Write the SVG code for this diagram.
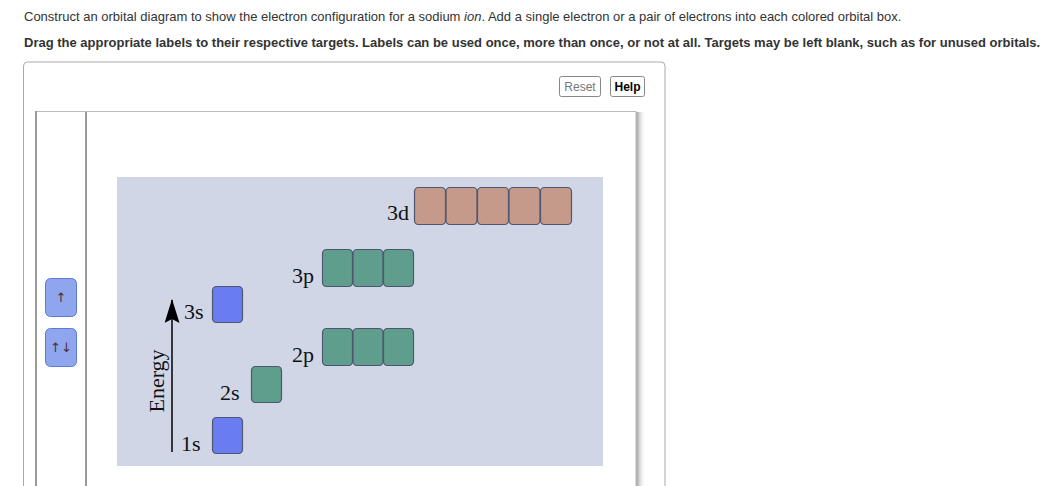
<svg xmlns="http://www.w3.org/2000/svg" width="1064" height="486" viewBox="0 0 1064 486">
<defs>
<style>
.ins{font-family:"Liberation Sans",Arial,sans-serif;font-size:13px;fill:#333}
.insb{font-family:"Liberation Sans",Arial,sans-serif;font-size:13px;font-weight:bold;fill:#333}
.lbl{font-family:"Liberation Serif","Times New Roman",serif;font-size:22px;fill:#111}
.btn{fill:#fff;stroke:#888;stroke-width:1}
.s{fill:#6a7cf2;stroke:#4e5670;stroke-width:1.2}
.g{fill:#5f9e8c;stroke:#4e5670;stroke-width:1.2}
.d{fill:#c59a8a;stroke:#4e5670;stroke-width:1.2}
.tile{fill:#8fa6ef;stroke:#5d7bd6;stroke-width:1}
</style>
<linearGradient id="sh" x1="0" y1="0" x2="1" y2="0">
<stop offset="0" stop-color="#999"/>
<stop offset="1" stop-color="#fff" stop-opacity="0"/>
</linearGradient>
<marker id="ah" viewBox="0 0 24 15" refX="23" refY="7.5" markerUnits="userSpaceOnUse" markerWidth="24" markerHeight="15" orient="auto">
<path d="M0,0 L24,7.5 L0,15 L4,7.5 z" fill="#000"/>
</marker>
</defs>
<rect width="1064" height="486" fill="#fff"/>
<text class="ins" x="24" y="21">Construct an orbital diagram to show the electron configuration for a sodium <tspan font-style="italic">ion</tspan>. Add a single electron or a pair of electrons into each colored orbital box.</text>
<text class="insb" x="24" y="47">Drag the appropriate labels to their respective targets. Labels can be used once, more than once, or not at all. Targets may be left blank, such as for unused orbitals.</text>

<g id="frame">
<path d="M23.5,495 V66 a4,4 0 0 1 4,-4 H661 a4,4 0 0 1 4,4 V495" fill="none" stroke="#aaa" stroke-width="1"/>
</g>
<g id="reset">
<rect class="btn" x="559.5" y="76.5" width="41" height="20" rx="2"/>
<text x="580" y="91" text-anchor="middle" font-family="Liberation Sans, Arial, sans-serif" font-size="12" fill="#777">Reset</text>
</g>
<g id="help">
<rect class="btn" x="610.5" y="76.5" width="34" height="20" rx="2" stroke="#555"/>
<text x="627.5" y="91" text-anchor="middle" font-family="Liberation Sans, Arial, sans-serif" font-size="12" font-weight="bold" fill="#000">Help</text>
</g>

<g id="panel">
<rect x="636" y="112" width="10" height="380" fill="url(#sh)"/>
<rect x="36" y="111.5" width="600" height="380" fill="#fff" stroke="#bbb" stroke-width="1"/>
<line x1="36" y1="111" x2="36" y2="486" stroke="#999" stroke-width="2"/>
<line x1="86" y1="112" x2="86" y2="486" stroke="#999" stroke-width="2"/>
<rect x="117" y="177" width="486" height="289" fill="#d0d6e6"/>
</g>

<g id="tile-up">
<rect class="tile" x="45.5" y="278.5" width="31" height="38" rx="5"/>
<text x="61" y="302" text-anchor="middle" font-family="DejaVu Sans, sans-serif" font-size="13" fill="#4a2f3a">↑</text>
</g>
<g id="tile-pair">
<rect class="tile" x="45.5" y="328.5" width="31" height="38" rx="5"/>
<text x="61" y="352" text-anchor="middle" font-family="DejaVu Sans, sans-serif" font-size="13" fill="#4a2f3a">↑↓</text>
</g>

<g id="connectors">
<line x1="172" y1="452" x2="172" y2="300" stroke="#000" stroke-width="1.5" marker-end="url(#ah)"/>
</g>

<g id="energy">
<text class="lbl" x="0" y="0" text-anchor="middle" transform="translate(164,381) rotate(-90)" font-size="23">Energy</text>
</g>

<g id="o1s">
<text class="lbl" x="181" y="451">1s</text>
<rect class="s" x="212.5" y="417.5" width="30" height="36" rx="4"/>
</g>
<g id="o2s">
<text class="lbl" x="220" y="400">2s</text>
<rect class="g" x="251.5" y="366.5" width="30" height="36" rx="4"/>
</g>
<g id="o3s">
<text class="lbl" x="184" y="319">3s</text>
<rect class="s" x="212.5" y="286.5" width="30" height="36" rx="4"/>
</g>
<g id="o2p">
<text class="lbl" x="292" y="362">2p</text>
<rect class="g" x="322.5" y="328.5" width="30" height="37" rx="4"/>
<rect class="g" x="353" y="328.5" width="30" height="37" rx="4"/>
<rect class="g" x="383.5" y="328.5" width="30" height="37" rx="4"/>
</g>
<g id="o3p">
<text class="lbl" x="292" y="283">3p</text>
<rect class="g" x="322.5" y="249.5" width="30" height="37" rx="4"/>
<rect class="g" x="353" y="249.5" width="30" height="37" rx="4"/>
<rect class="g" x="383.5" y="249.5" width="30" height="37" rx="4"/>
</g>
<g id="o3d">
<text class="lbl" x="387" y="220">3d</text>
<rect class="d" x="414.5" y="187.5" width="31" height="37" rx="4"/>
<rect class="d" x="446" y="187.5" width="31" height="37" rx="4"/>
<rect class="d" x="477.5" y="187.5" width="31" height="37" rx="4"/>
<rect class="d" x="509" y="187.5" width="31" height="37" rx="4"/>
<rect class="d" x="540.5" y="187.5" width="31" height="37" rx="4"/>
</g>
</svg>
